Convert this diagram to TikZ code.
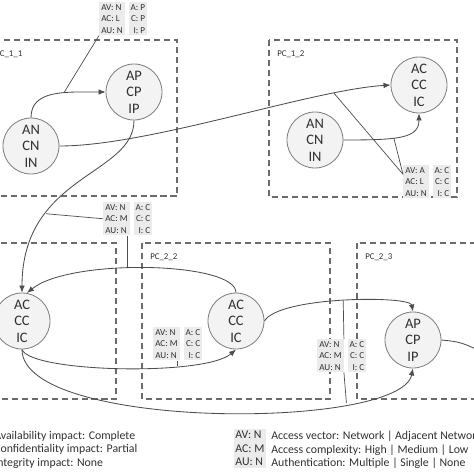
\documentclass[tikz,border=0pt]{standalone}
\usepackage{fontspec}
\setmainfont{Carlito}
\usetikzlibrary{arrows.meta, positioning}

\definecolor{wire}{HTML}{4D4D4D}
\definecolor{dashgray}{HTML}{6B6B6B}
\definecolor{ringgray}{HTML}{808080}
\definecolor{ringfill}{HTML}{F3F3F3}
\definecolor{tagfill}{HTML}{EBEBEB}
\definecolor{ink}{HTML}{303030}

\newcommand{\cvsstag}[8]{%
  \node[vecL] (#1) at (#2) {AV: #3\\AC: #4\\AU: #5};
  \node[vecR, right=2.5pt of #1] (#1r) {A: #6\\C: #7\\I: #8};}

\tikzset{
  host/.style={draw=dashgray, line width=0.8pt, dash pattern=on 4.3pt off 2.8pt},
  hostname/.style={anchor=west, inner sep=0pt, text=ink,
    font=\fontsize{6.3}{7.5}\selectfont},
  priv/.style={circle, draw=ringgray, fill=ringfill, line width=0.6pt,
    minimum size=1.4cm, inner sep=0pt, align=center, text=ink,
    font=\fontsize{10.3}{11.7}\selectfont},
  vecL/.style={fill=tagfill, align=left, inner sep=1.4pt, anchor=north west,
    text=ink, font=\fontsize{6.5}{8.2}\selectfont},
  vecR/.style={fill=tagfill, align=right, inner sep=1.4pt,
    text=ink, font=\fontsize{6.5}{8.2}\selectfont},
  exploit/.style={draw=wire, line width=0.6pt, -{Latex[length=5pt,width=4pt]}},
  tag/.style={draw=wire, line width=0.5pt},
  legtxt/.style={align=left, inner sep=0pt, text=ink,
    font=\fontsize{8.4}{9.6}\selectfont},
  legkey/.style={fill=tagfill, align=left, inner xsep=0.8pt, inner ysep=1.3pt,
    text=ink, font=\fontsize{8.4}{9.6}\selectfont}
}

\begin{document}
\begin{tikzpicture}[x=0.025cm, y=-0.025cm]
\useasboundingbox (0,0) rectangle (474,474);
\clip (0,0) rectangle (474,474);

\draw[host] (-13,40) rectangle (177,196);
\draw[host] (269,40) rectangle (457,197);
\draw[host] (-72,243) rectangle (116,399);
\draw[host] (142,243) rectangle (330,399);
\draw[host] (357,243) rectangle (545,399);
\node[hostname] (pc11) at (-5,54) {PC\_1\_1};
\node[hostname] (pc12) at (277,54) {PC\_1\_2};
\node[hostname] (pc22) at (150,257) {PC\_2\_2};
\node[hostname] (pc23) at (365,257) {PC\_2\_3};

\node[priv] (n11a) at (31,146) {AN\\CN\\IN};
\node[priv] (n11b) at (134,92) {AP\\CP\\IP};
\node[priv] (n12a) at (315,140) {AN\\CN\\IN};
\node[priv] (n12b) at (419,85) {AC\\CC\\IC};
\node[priv] (n21) at (22,321) {AC\\CC\\IC};
\node[priv] (n22) at (236,321) {AC\\CC\\IC};
\node[priv] (n23) at (413,340) {AP\\CP\\IP};
\coordinate (exit23) at (490,356);

\cvsstag{lab11}{99,2}{N}{L}{N}{P}{P}{P}
\cvsstag{lab12}{403,165}{A}{L}{N}{C}{C}{C}
\cvsstag{lab21}{103,202}{N}{M}{N}{C}{C}{C}
\cvsstag{lab22}{153,327}{N}{M}{N}{C}{C}{C}
\cvsstag{lab23}{317,339}{N}{M}{N}{C}{C}{C}

\draw[exploit] (n11a.north) .. controls +(0,-28) and +(-40,0) .. coordinate[pos=0.62] (p1) (n11b.west);
\draw[exploit] (n11a.east) .. controls +(90,0) and +(-80,5) .. coordinate[pos=0.8] (p2) (n12b.west);
\draw[exploit] (n12a.east) .. controls +(55,0) and +(0,25) .. coordinate[pos=0.4] (p3) (n12b.south);
\draw[exploit] (n11b.south) .. controls +(0,55) and +(0,-118) .. coordinate[pos=0.7] (p4) (n21.north);
\draw[exploit] (n22.north) .. controls +(0,-31) and +(43,-35) .. coordinate[pos=0.57] (p5) (n21.80);
\draw[exploit] (n21.south) .. controls +(8,23) and +(-31,27) .. coordinate[pos=0.7] (p6) (n22.south);
\draw[exploit] (n22.east) .. controls +(15,-25) and +(-3,-16) .. coordinate[pos=0.5] (p7) (n23.north);
\draw[exploit] (n21.south) .. controls +(0,81) and +(-13,62) .. coordinate[pos=0.75] (p8) (n23.south);
\draw[draw=wire, line width=0.6pt] (n23.east) .. controls +(20,2) .. (exit23);

\draw[tag] (p1) -- (lab11.south west);
\draw[tag] (p2) -- (lab12.150);
\draw[tag] (p3) -- (lab12.150);
\draw[tag] (p4) -- (lab21.west);
\draw[tag] (p5) -- (p5 |- lab21.south);
\draw[tag] (p6) -- (p6 |- lab22.south);
\draw[tag] (p7) -- (lab23.north east);
\draw[tag] (p8) -- (lab23.south east);

\node[legtxt, anchor=north west] (impact) at (-6,431) {Availability impact: Complete\\Confidentiality impact: Partial\\Integrity impact: None};
\node[legkey, anchor=north west] (keyvec) at (234,429) {AV: N\\AC: M\\AU: N};
\node[legtxt, anchor=north west] (keytxt) at (271,431) {Access vector: Network | Adjacent Network\\Access complexity: High | Medium | Low\\Authentication: Multiple | Single | None};
\end{tikzpicture}
\end{document}
